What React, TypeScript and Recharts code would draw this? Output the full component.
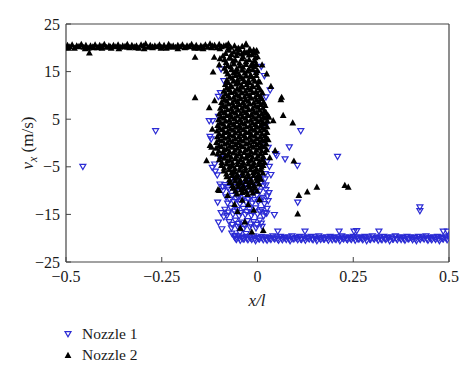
import { ScatterChart, Scatter, XAxis, YAxis, ReferenceLine, Legend, Label } from 'recharts';

type Pt = [number, number];

const BLUE = '#2b2bd4';
const AXIS = '#444';
const INK = '#1a1a1a';
const FONT = "'Liberation Serif', 'Times New Roman', serif";

// #region axis ticks
const xTicks = [-0.5, -0.25, 0, 0.25, 0.5];
const yTicks = [-25, -15, -5, 5, 15, 25];
// #endregion

// #region Nozzle 1 (blue, hollow down triangles)
const nozzle1Plateau: Pt[] = [
  [-0.06, -19.8], [-0.05, -19.6], [-0.04, -19.9], [-0.03, -19.7], [-0.02, -19.8], [-0.01, -19.6], [0, -19.9], [0.01, -19.7],
  [0.02, -19.8], [0.03, -19.9], [0.04, -19.6], [0.05, -19.8], [0.06, -19.7], [0.07, -19.9], [0.08, -19.8], [0.09, -19.6],
  [0.1, -19.9], [0.11, -19.7], [0.12, -19.8], [0.13, -19.9], [0.14, -19.7], [0.15, -19.8], [0.16, -19.6], [0.17, -19.9],
  [0.18, -19.8], [0.19, -19.7], [0.2, -19.9], [0.21, -19.8], [0.22, -19.6], [0.23, -19.8], [0.24, -19.9], [0.25, -19.7],
  [0.26, -19.8], [0.27, -19.9], [0.28, -19.7], [0.29, -19.8], [0.3, -19.6], [0.31, -19.9], [0.32, -19.8], [0.33, -19.7],
  [0.34, -19.9], [0.35, -19.8], [0.36, -19.6], [0.37, -19.8], [0.38, -19.9], [0.39, -19.7], [0.4, -19.8], [0.41, -19.9],
  [0.42, -19.7], [0.43, -19.8], [0.44, -19.6], [0.45, -19.9], [0.46, -19.8], [0.47, -19.7], [0.48, -19.9], [0.49, -19.8],
  [0.5, -19.6],
  [-0.055, -20.3], [-0.045, -20.5], [-0.035, -20.2], [-0.025, -20.4], [-0.015, -20.3], [-0.005, -20.6], [0.005, -20.2],
  [0.015, -20.4], [0.025, -20.5], [0.035, -20.3], [0.045, -20.2], [0.055, -20.5], [0.065, -20.4], [0.075, -20.3],
  [0.085, -20.6], [0.095, -20.2], [0.105, -20.4], [0.115, -20.3], [0.125, -20.5], [0.135, -20.2], [0.145, -20.4],
  [0.155, -20.6], [0.165, -20.3], [0.175, -20.2], [0.185, -20.5], [0.195, -20.4], [0.205, -20.3], [0.215, -20.6],
  [0.225, -20.2], [0.235, -20.4], [0.245, -20.3], [0.255, -20.5], [0.265, -20.2], [0.275, -20.4], [0.285, -20.6],
  [0.295, -20.3], [0.305, -20.2], [0.315, -20.5], [0.325, -20.4], [0.335, -20.3], [0.345, -20.6], [0.355, -20.2],
  [0.365, -20.4], [0.375, -20.3], [0.385, -20.5], [0.395, -20.2], [0.405, -20.4], [0.415, -20.6], [0.425, -20.3],
  [0.435, -20.2], [0.445, -20.5], [0.455, -20.4], [0.465, -20.3], [0.475, -20.6], [0.485, -20.2], [0.495, -20.4],
  [-0.0575, -20.1], [-0.0475, -20.0], [-0.0375, -20.2], [-0.0275, -20.1], [-0.0175, -20.0], [-0.0075, -20.2],
  [0.0025, -20.1], [0.0125, -20.0], [0.0225, -20.2], [0.0325, -20.1], [0.0425, -20.0], [0.0525, -20.2],
  [0.0625, -20.1], [0.0725, -20.0], [0.0825, -20.2], [0.0925, -20.1], [0.1025, -20.0], [0.1125, -20.2],
  [0.1225, -20.1], [0.1325, -20.0], [0.1425, -20.2], [0.1525, -20.1], [0.1625, -20.0], [0.1725, -20.2],
  [0.1825, -20.1], [0.1925, -20.0], [0.2025, -20.2], [0.2125, -20.1], [0.2225, -20.0], [0.2325, -20.2],
  [0.2425, -20.1], [0.2525, -20.0], [0.2625, -20.2], [0.2725, -20.1], [0.2825, -20.0], [0.2925, -20.2],
  [0.3025, -20.1], [0.3125, -20.0], [0.3225, -20.2], [0.3325, -20.1], [0.3425, -20.0], [0.3525, -20.2],
  [0.3625, -20.1], [0.3725, -20.0], [0.3825, -20.2], [0.3925, -20.1], [0.4025, -20.0], [0.4125, -20.2],
  [0.4225, -20.1], [0.4325, -20.0], [0.4425, -20.2], [0.4525, -20.1], [0.4625, -20.0], [0.4725, -20.2],
  [0.4825, -20.1], [0.4925, -20.0],
];

const nozzle1Core: Pt[] = [
  [-0.07, -7.6], [-0.05, -7.3], [-0.02, -7.7], [0.005, -7.4], [0.02, -7.6],
  [-0.085, -8.8], [-0.068, -8.5], [-0.048, -8.9], [-0.03, -8.6], [-0.01, -8.8], [0.008, -8.5], [0.022, -8.9],
  [-0.09, -10.1], [-0.074, -9.8], [-0.058, -10.2], [-0.042, -9.9], [-0.026, -10.1], [-0.01, -9.8], [0.006, -10.2], [0.022, -9.9],
  [-0.082, -11.4], [-0.066, -11.1], [-0.05, -11.5], [-0.034, -11.2], [-0.018, -11.4], [-0.002, -11.1], [0.014, -11.5], [0.026, -11.2],
  [-0.078, -12.7], [-0.062, -12.4], [-0.046, -12.8], [-0.03, -12.5], [-0.014, -12.7], [0.002, -12.4], [0.018, -12.8],
  [-0.085, -14.0], [-0.069, -13.7], [-0.053, -14.1], [-0.037, -13.8], [-0.021, -14.0], [-0.005, -13.7], [0.011, -14.1], [0.025, -13.8],
  [-0.08, -15.3], [-0.064, -15.0], [-0.048, -15.4], [-0.032, -15.1], [-0.016, -15.3], [0.0, -15.0], [0.016, -15.4],
  [-0.074, -16.6], [-0.058, -16.3], [-0.042, -16.7], [-0.026, -16.4], [-0.01, -16.6], [0.006, -16.3],
  [-0.068, -17.9], [-0.052, -17.6], [-0.036, -18.0], [-0.02, -17.7], [-0.004, -17.9], [0.012, -17.6],
  [-0.067, -19.0], [-0.059, -19.5], [-0.046, -18.9], [-0.03, -19.1],
  [-0.077, -9.4], [-0.06, -9.2], [-0.036, -9.5], [-0.018, -9.2], [0.0, -9.4], [0.015, -9.1],
  [-0.072, -12.0], [-0.056, -11.8], [-0.04, -12.1], [-0.024, -11.9], [-0.008, -12.0], [0.008, -11.8],
  [-0.076, -14.6], [-0.06, -14.4], [-0.044, -14.7], [-0.028, -14.5], [-0.012, -14.6], [0.006, -14.4], [0.02, -14.7],
  [-0.066, -17.2], [-0.05, -17.0], [-0.034, -17.3], [-0.018, -17.1], [-0.002, -17.2], [0.01, -16.9],
];

const nozzle1Scatter: Pt[] = [
  [-0.456, -5.0], [-0.266, 2.5], [0.424, -13.5], [0.424, -14.3], [0.209, -2.9], [0.113, 2.5], [0.083, -0.9],
  [0.072, -3.4], [0.05, -2.7], [0.047, -2.3], [0.104, -4.8], [0.105, -12.5], [0.033, 11.1], [0.022, 9.6],
  [0.018, 14.1], [-0.003, 14.6], [0.035, -6.7], [0.031, -5.0], [0.044, -15.1], [0.024, -14.8],
  [0.053, -18.6], [0.124, -18.6], [0.213, -18.6], [0.252, -18.6], [0.259, -18.5], [0.317, -18.6], [0.485, -18.6], [0.496, -18.6],
  [-0.126, 4.6], [-0.117, 4.6], [-0.124, 1.3], [-0.121, 0.8], [-0.118, -5.2], [-0.097, -3.2], [-0.102, 9.7], [-0.097, 10.5],
  [-0.102, 5.5], [-0.104, -12.5], [-0.102, -16.7], [-0.093, -18.1], [-0.091, -9.2], [-0.098, -8.7], [-0.11, -6.0],
  [0.03, -10.5], [0.028, -12.2], [0.025, -4.0], [0.028, -1.0], [0.02, 3.5], [-0.112, -4.5], [-0.095, 15.5], [-0.088, 13.0],
  [0.01, 16.0], [0.015, -0.5], [0.02, -6.5], [-0.105, -6.8], [-0.095, -14.7], [-0.088, -15.6],
];
// #endregion

// #region Nozzle 2 (black, filled up triangles)
const nozzle2Plateau: Pt[] = [
  [-0.5, 20.1], [-0.49, 20.3], [-0.478, 20.0], [-0.466, 20.4], [-0.454, 20.2], [-0.442, 20.0], [-0.43, 20.3], [-0.418, 20.1],
  [-0.406, 20.4], [-0.394, 20.2], [-0.382, 20.0], [-0.37, 20.3], [-0.358, 20.2], [-0.346, 20.4], [-0.334, 20.1], [-0.322, 20.3],
  [-0.31, 20.0], [-0.298, 20.5], [-0.286, 20.2], [-0.274, 20.1], [-0.262, 20.3], [-0.25, 20.2], [-0.238, 20.0], [-0.226, 20.4],
  [-0.214, 20.2], [-0.202, 20.3], [-0.19, 20.1], [-0.178, 20.4], [-0.166, 20.2], [-0.154, 20.0], [-0.142, 20.3], [-0.13, 20.2],
  [-0.118, 20.5], [-0.106, 20.1], [-0.094, 20.3], [-0.082, 20.6], [-0.07, 20.2], [-0.06, 20.5], [-0.05, 20.0], [-0.04, 20.4],
  [-0.03, 20.7], [-0.02, 19.8], [-0.01, 19.6], [-0.003, 19.4],
  [-0.494, 20.0], [-0.472, 20.3], [-0.45, 19.9], [-0.428, 20.1], [-0.406, 20.0], [-0.384, 20.3], [-0.362, 19.9], [-0.34, 20.2],
  [-0.318, 20.1], [-0.296, 19.9], [-0.274, 20.3], [-0.252, 20.0], [-0.23, 20.2], [-0.208, 19.9], [-0.186, 20.2], [-0.164, 20.0],
  [-0.142, 19.9], [-0.12, 20.1], [-0.098, 19.9], [-0.076, 20.0], [-0.054, 19.8],
  [-0.496, 20.6], [-0.484, 20.7], [-0.472, 20.5], [-0.46, 20.8], [-0.448, 20.6], [-0.436, 20.5], [-0.424, 20.7], [-0.412, 20.6],
  [-0.4, 20.8], [-0.388, 20.5], [-0.376, 20.6], [-0.364, 20.7], [-0.352, 20.5], [-0.34, 20.8], [-0.328, 20.6], [-0.316, 20.5],
  [-0.304, 20.7], [-0.292, 20.9], [-0.28, 20.6], [-0.268, 20.5], [-0.256, 20.7], [-0.244, 20.6], [-0.232, 20.8], [-0.22, 20.5],
  [-0.208, 20.6], [-0.196, 20.7], [-0.184, 20.5], [-0.172, 20.8], [-0.16, 20.6], [-0.148, 20.5], [-0.136, 20.7], [-0.124, 20.9],
  [-0.112, 20.6], [-0.1, 20.8], [-0.088, 20.5], [-0.076, 20.9],
];

const nozzle2Core: Pt[] = [
  [-0.075, 19.6], [-0.062, 19.2], [-0.047, 19.7], [-0.034, 19.3], [-0.02, 19.5], [-0.008, 19.1],
  [-0.083, 18.9], [-0.068, 18.7], [-0.051, 19.0], [-0.041, 18.8], [-0.028, 19.0], [-0.014, 18.7],
  [-0.09, 18.4], [-0.072, 18.1], [-0.055, 18.5], [-0.038, 18.2], [-0.022, 18.6], [-0.006, 18.0],
  [-0.086, 17.6], [-0.073, 17.9], [-0.058, 17.5], [-0.04, 17.8], [-0.022, 17.6], [-0.007, 17.4],
  [-0.082, 17.0], [-0.064, 17.3], [-0.047, 16.9], [-0.03, 17.2], [-0.014, 16.8],
  [-0.078, 16.4], [-0.062, 16.7], [-0.046, 16.3], [-0.03, 16.6], [-0.015, 16.4], [-0.003, 16.6],
  [-0.086, 15.8], [-0.07, 16.1], [-0.054, 15.7], [-0.038, 16.0], [-0.022, 15.6], [-0.008, 16.2],
  [-0.082, 15.2], [-0.068, 15.5], [-0.054, 15.1], [-0.04, 15.4], [-0.026, 15.2], [-0.012, 15.5], [0.0, 15.3],
  [-0.078, 14.6], [-0.062, 14.9], [-0.048, 14.5], [-0.033, 14.8], [-0.018, 14.4], [-0.004, 14.9],
  [-0.072, 14.0], [-0.058, 14.3], [-0.044, 13.9], [-0.03, 14.2], [-0.016, 14.0], [-0.003, 14.3],
  [-0.08, 13.3], [-0.066, 13.7], [-0.052, 13.4], [-0.038, 13.6], [-0.024, 13.2], [-0.01, 13.5], [0.003, 13.1],
  [-0.077, 12.8], [-0.063, 13.1], [-0.049, 12.7], [-0.035, 13.0], [-0.021, 12.8], [-0.007, 13.1], [0.006, 12.9],
  [-0.084, 12.4], [-0.07, 12.1], [-0.056, 12.5], [-0.042, 12.2], [-0.028, 12.4], [-0.014, 12.0], [0.0, 12.3],
  [-0.081, 11.6], [-0.067, 11.9], [-0.053, 11.5], [-0.039, 11.8], [-0.025, 11.6], [-0.011, 11.9], [0.003, 11.7],
  [-0.088, 11.0], [-0.074, 11.3], [-0.06, 10.9], [-0.046, 11.2], [-0.032, 11.0], [-0.018, 11.3], [-0.004, 10.9], [0.008, 11.2],
  [-0.083, 10.4], [-0.069, 10.7], [-0.055, 10.3], [-0.041, 10.6], [-0.027, 10.4], [-0.013, 10.7], [0.001, 10.3], [0.013, 10.6],
  [-0.09, 9.8], [-0.076, 10.1], [-0.062, 9.7], [-0.048, 10.0], [-0.034, 9.8], [-0.02, 10.1], [-0.006, 9.7], [0.008, 9.9],
  [-0.087, 9.2], [-0.073, 9.5], [-0.059, 9.1], [-0.045, 9.4], [-0.031, 9.2], [-0.017, 9.5], [-0.003, 9.1], [0.011, 9.4],
  [-0.094, 8.6], [-0.08, 8.9], [-0.066, 8.5], [-0.052, 8.8], [-0.038, 8.6], [-0.024, 8.9], [-0.01, 8.5], [0.004, 8.8], [0.016, 8.6],
  [-0.09, 8.0], [-0.076, 8.3], [-0.062, 7.9], [-0.048, 8.2], [-0.034, 8.0], [-0.02, 8.3], [-0.006, 7.9], [0.008, 8.2], [0.02, 8.0],
  [-0.097, 7.4], [-0.083, 7.7], [-0.069, 7.3], [-0.055, 7.6], [-0.041, 7.4], [-0.027, 7.7], [-0.013, 7.3], [0.001, 7.6], [0.014, 7.4],
  [-0.093, 6.8], [-0.079, 7.1], [-0.065, 6.7], [-0.051, 7.0], [-0.037, 6.8], [-0.023, 7.1], [-0.009, 6.7], [0.005, 7.0], [0.018, 6.8],
  [-0.1, 6.2], [-0.086, 6.5], [-0.072, 6.1], [-0.058, 6.4], [-0.044, 6.2], [-0.03, 6.5], [-0.016, 6.1], [-0.002, 6.4], [0.011, 6.2], [0.022, 6.5],
  [-0.095, 5.6], [-0.081, 5.9], [-0.067, 5.5], [-0.053, 5.8], [-0.039, 5.6], [-0.025, 5.9], [-0.011, 5.5], [0.003, 5.8], [0.016, 5.6], [0.027, 5.9],
  [-0.102, 5.0], [-0.088, 5.3], [-0.074, 4.9], [-0.06, 5.2], [-0.046, 5.0], [-0.032, 5.3], [-0.018, 4.9], [-0.004, 5.2], [0.009, 5.0], [0.021, 5.3],
  [-0.097, 4.4], [-0.083, 4.7], [-0.069, 4.3], [-0.055, 4.6], [-0.041, 4.4], [-0.027, 4.7], [-0.013, 4.3], [0.001, 4.6], [0.014, 4.4], [0.026, 4.7],
  [-0.104, 3.8], [-0.09, 4.1], [-0.076, 3.7], [-0.062, 4.0], [-0.048, 3.8], [-0.034, 4.1], [-0.02, 3.7], [-0.006, 4.0], [0.008, 3.8], [0.02, 4.1],
  [-0.099, 3.2], [-0.085, 3.5], [-0.071, 3.1], [-0.057, 3.4], [-0.043, 3.2], [-0.029, 3.5], [-0.015, 3.1], [-0.001, 3.4], [0.013, 3.2], [0.025, 3.5],
  [-0.106, 2.6], [-0.092, 2.9], [-0.078, 2.5], [-0.064, 2.8], [-0.05, 2.6], [-0.036, 2.9], [-0.022, 2.5], [-0.008, 2.8], [0.006, 2.6], [0.019, 2.9],
  [-0.1, 2.0], [-0.086, 2.3], [-0.072, 1.9], [-0.058, 2.2], [-0.044, 2.0], [-0.03, 2.3], [-0.016, 1.9], [-0.002, 2.2], [0.012, 2.0], [0.025, 2.3],
  [-0.105, 1.4], [-0.091, 1.7], [-0.077, 1.3], [-0.063, 1.6], [-0.049, 1.4], [-0.035, 1.7], [-0.021, 1.3], [-0.007, 1.6], [0.007, 1.4], [0.02, 1.7],
  [-0.1, 0.8], [-0.086, 1.1], [-0.072, 0.7], [-0.058, 1.0], [-0.044, 0.8], [-0.03, 1.1], [-0.016, 0.7], [-0.002, 1.0], [0.012, 0.8], [0.024, 1.1],
  [-0.107, 0.2], [-0.093, 0.5], [-0.079, 0.1], [-0.065, 0.4], [-0.051, 0.2], [-0.037, 0.5], [-0.023, 0.1], [-0.009, 0.4], [0.005, 0.2], [0.018, 0.5],
  [-0.1, -0.4], [-0.086, -0.1], [-0.072, -0.5], [-0.058, -0.2], [-0.044, -0.4], [-0.03, -0.1], [-0.016, -0.5], [-0.002, -0.2], [0.011, -0.4], [0.023, -0.1],
  [-0.108, -1.0], [-0.094, -0.7], [-0.08, -1.1], [-0.066, -0.8], [-0.052, -1.0], [-0.038, -0.7], [-0.024, -1.1], [-0.01, -0.8], [0.004, -1.0], [0.017, -0.7],
  [-0.101, -1.6], [-0.087, -1.3], [-0.073, -1.7], [-0.059, -1.4], [-0.045, -1.6], [-0.031, -1.3], [-0.017, -1.7], [-0.003, -1.4], [0.011, -1.6], [0.024, -1.3],
  [-0.104, -2.2], [-0.09, -1.9], [-0.076, -2.3], [-0.062, -2.0], [-0.048, -2.2], [-0.034, -1.9], [-0.02, -2.3], [-0.006, -2.0], [0.008, -2.2], [0.02, -1.9],
  [-0.097, -2.8], [-0.083, -2.5], [-0.069, -2.9], [-0.055, -2.6], [-0.041, -2.8], [-0.027, -2.5], [-0.013, -2.9], [0.001, -2.6], [0.015, -2.8],
  [-0.1, -3.4], [-0.086, -3.1], [-0.072, -3.5], [-0.058, -3.2], [-0.044, -3.4], [-0.03, -3.1], [-0.016, -3.5], [-0.002, -3.2], [0.012, -3.4],
  [-0.093, -4.0], [-0.079, -3.7], [-0.065, -4.1], [-0.051, -3.8], [-0.037, -4.0], [-0.023, -3.7], [-0.009, -4.1], [0.005, -3.8], [0.018, -4.0],
  [-0.094, -4.6], [-0.08, -4.3], [-0.066, -4.7], [-0.052, -4.4], [-0.038, -4.6], [-0.024, -4.3], [-0.01, -4.7], [0.004, -4.4], [0.015, -4.6],
  [-0.087, -5.2], [-0.073, -4.9], [-0.059, -5.3], [-0.045, -5.0], [-0.031, -5.2], [-0.017, -4.9], [-0.003, -5.3], [0.01, -5.0],
  [-0.088, -5.8], [-0.074, -5.5], [-0.06, -5.9], [-0.046, -5.6], [-0.032, -5.8], [-0.018, -5.5], [-0.004, -5.9], [0.009, -5.6],
  [-0.081, -6.4], [-0.067, -6.1], [-0.053, -6.5], [-0.039, -6.2], [-0.025, -6.4], [-0.011, -6.1], [0.003, -6.5], [0.014, -6.2],
  [-0.08, -7.0], [-0.066, -6.7], [-0.052, -7.1], [-0.038, -6.8], [-0.024, -7.0], [-0.01, -6.7], [0.004, -7.1],
  [-0.073, -7.6], [-0.059, -7.3], [-0.045, -7.7], [-0.031, -7.4], [-0.017, -7.6], [-0.003, -7.3], [0.009, -7.5],
  [-0.072, -8.2], [-0.058, -7.9], [-0.044, -8.3], [-0.03, -8.0], [-0.016, -8.2], [-0.002, -7.9],
  [-0.065, -8.8], [-0.051, -8.5], [-0.037, -8.9], [-0.023, -8.6], [-0.009, -8.8], [0.004, -8.5],
  [-0.064, -9.4], [-0.05, -9.1], [-0.036, -9.5], [-0.022, -9.2], [-0.008, -9.4],
  [-0.057, -10.0], [-0.043, -9.7], [-0.029, -10.1], [-0.015, -9.8], [-0.001, -10.0],
  [-0.054, -10.6], [-0.04, -10.3], [-0.026, -10.7], [-0.012, -10.4],
];

const nozzle2Scatter: Pt[] = [
  [-0.439, 19.0], [-0.163, 18.1], [-0.163, 9.6], [-0.126, 7.5], [-0.113, 18.1], [-0.116, 15.0], [-0.124, -0.4],
  [-0.12, -0.8], [-0.133, -3.6], [-0.116, -2.0], [-0.1, -9.9], [-0.103, -9.7], [-0.078, -10.9], [0.063, 9.7],
  [0.061, 9.2], [0.067, 5.9], [0.092, 4.3], [0.095, -3.7], [0.108, -10.9], [0.13, -10.2], [0.155, -9.2],
  [0.228, -8.8], [0.237, -9.2], [0.105, -14.8], [0.046, -1.5], [0.024, 14.6], [0.041, 4.8], [0.03, 5.5],
  [0.028, 0.8], [0.032, -3.0], [-0.06, -12.8], [-0.052, -14.3], [-0.024, -12.8], [-0.033, -16.5], [0.015, -18.3],
  [-0.04, -11.9], [-0.01, -14.0], [0.005, -11.8], [-0.045, -17.8], [-0.015, -18.6], [-0.002, 19.5], [-0.03, 20.9],
  [-0.1, 16.5], [-0.098, 17.8], [0.012, 16.5], [0.0, 18.2], [-0.112, 9.0], [-0.118, 3.0], [0.035, 12.0],
];
// #endregion

const toRows = (pts: Pt[]) => pts.map(([x, y]) => ({ x, y }));
const nozzle1 = toRows([...nozzle1Plateau, ...nozzle1Core, ...nozzle1Scatter]);
const nozzle2 = toRows([...nozzle2Plateau, ...nozzle2Core, ...nozzle2Scatter]);

const fmt = (v: number) => (v < 0 ? `\u2212${Math.abs(v)}` : `${v}`);

const downPath = (cx: number, cy: number) => `M${cx - 3},${cy - 2.4}L${cx + 3},${cy - 2.4}L${cx},${cy + 2.8}Z`;
const upPath = (cx: number, cy: number) => `M${cx - 3.4},${cy + 3}L${cx + 3.4},${cy + 3}L${cx},${cy - 3.2}Z`;

const textStyle = { fontFamily: FONT };

const DownTriangle = (props: any) => {
  const { cx, cy } = props;
  if (cx == null || cy == null) return null;
  return <path d={downPath(cx, cy)} fill="none" stroke={BLUE} strokeWidth={1.2} />;
};

const UpTriangle = (props: any) => {
  const { cx, cy } = props;
  if (cx == null || cy == null) return null;
  return <path d={upPath(cx, cy)} fill="#000" />;
};

const XTick = (props: any) => {
  const { x, y, payload } = props;
  return (
    <g>
      <line x1={x} x2={x} y1={y - 9} y2={y - 14} stroke={AXIS} />
      <text x={x} y={y} dy="0.71em" textAnchor="middle" style={textStyle} fontSize={16} fill={INK}>
        {fmt(payload.value)}
      </text>
    </g>
  );
};

const YTick = (props: any) => {
  const { x, y, payload } = props;
  return (
    <g>
      <line x1={x + 6} x2={x + 11} y1={y} y2={y} stroke={AXIS} />
      <text x={x} y={y} dy="0.35em" textAnchor="end" style={textStyle} fontSize={16} fill={INK}>
        {fmt(payload.value)}
      </text>
    </g>
  );
};

const YTitle = () => (
  <text
    x={27}
    y={143}
    transform="rotate(-90 27 143)"
    textAnchor="middle"
    dy="0.35em"
    style={textStyle}
    fontSize={17}
    fill={INK}
  >
    <tspan fontStyle="italic">v</tspan>
    <tspan fontStyle="italic" fontSize={12} dy={4}>x</tspan>
    <tspan dy={-4}> (m/s)</tspan>
  </text>
);

const XTitle = () => (
  <text x={257} y={300} dy="0.35em" textAnchor="middle" style={textStyle} fontSize={17} fontStyle="italic" fill={INK}>
    x/l
  </text>
);

const LegendBox = () => (
  <svg width={160} height={50} style={{ display: 'block' }}>
    <path d={downPath(68, 19)} fill="none" stroke={BLUE} strokeWidth={1.2} />
    <text x={82} y={19} dy="0.35em" style={textStyle} fontSize={15.5} fill={INK}>Nozzle 1</text>
    <path d={upPath(68, 40)} fill="#000" />
    <text x={82} y={40} dy="0.35em" style={textStyle} fontSize={15.5} fill={INK}>Nozzle 2</text>
  </svg>
);

export default function App() {
  return (
    <div style={{ position: 'absolute', left: 0, top: 0, background: '#fff', fontFamily: FONT }}>
      <ScatterChart width={474} height={381} margin={{ top: 24, right: 25, bottom: 16, left: 26 }}>
        <XAxis
          type="number"
          dataKey="x"
          domain={[-0.5, 0.5]}
          ticks={xTicks}
          height={53}
          tickSize={0}
          tickMargin={9}
          tickLine={false}
          tick={<XTick />}
          axisLine={{ stroke: AXIS, strokeWidth: 1.2 }}
          allowDataOverflow
        >
          <Label content={<XTitle />} />
        </XAxis>
        <YAxis
          type="number"
          dataKey="y"
          domain={[-25, 25]}
          ticks={yTicks}
          width={40}
          tickSize={0}
          tickMargin={6}
          tickLine={false}
          tick={<YTick />}
          axisLine={{ stroke: AXIS, strokeWidth: 1.2 }}
          allowDataOverflow
        >
          <Label content={<YTitle />} />
        </YAxis>
        <ReferenceLine y={25} stroke={AXIS} strokeWidth={1.2} />
        <ReferenceLine x={0.5} stroke={AXIS} strokeWidth={1.2} />
        <Legend
          verticalAlign="bottom"
          align="center"
          layout="vertical"
          content={<LegendBox />}
          wrapperStyle={{ left: 0, width: 160 }}
        />
        <Scatter name="Nozzle 1" data={nozzle1} shape={DownTriangle} isAnimationActive={false} />
        <Scatter name="Nozzle 2" data={nozzle2} shape={UpTriangle} isAnimationActive={false} />
      </ScatterChart>
    </div>
  );
}
